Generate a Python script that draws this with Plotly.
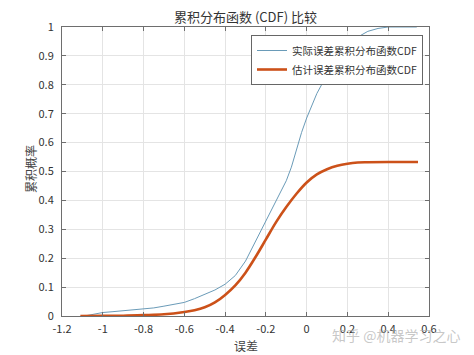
import plotly.graph_objects as go

# Empirical (actual) error CDF
actual_x = [-1.09, -1.05, -1.0, -0.95, -0.9, -0.85, -0.8, -0.75, -0.7, -0.65, -0.6, -0.55,
            -0.5, -0.45, -0.4, -0.35, -0.3, -0.25, -0.2, -0.15, -0.1, -0.075, -0.05, -0.025,
            0.0, 0.05, 0.1, 0.15, 0.2, 0.25, 0.3, 0.35, 0.4, 0.54]
actual_y = [0.0, 0.006, 0.012, 0.015, 0.018, 0.021, 0.023, 0.028, 0.034, 0.041, 0.047, 0.06,
            0.075, 0.09, 0.11, 0.14, 0.19, 0.26, 0.33, 0.4, 0.468, 0.515, 0.575, 0.635,
            0.685, 0.77, 0.835, 0.89, 0.935, 0.965, 0.985, 0.995, 1.0, 1.0]

# Estimated error CDF
est_x = [-1.11, -1.0, -0.9, -0.8, -0.7, -0.6, -0.55, -0.5, -0.45, -0.4, -0.35, -0.3,
         -0.25, -0.2, -0.15, -0.1, -0.05, 0.0, 0.05, 0.1, 0.15, 0.2, 0.25, 0.3, 0.4, 0.546]
est_y = [0.0, 0.0005, 0.001, 0.003, 0.006, 0.014, 0.02, 0.03, 0.047, 0.073, 0.106, 0.15,
         0.205, 0.265, 0.325, 0.377, 0.423, 0.462, 0.49, 0.508, 0.52, 0.527, 0.531, 0.532,
         0.533, 0.533]

x_ticks = [-1.2, -1.0, -0.8, -0.6, -0.4, -0.2, 0.0, 0.2, 0.4, 0.6]
x_tick_text = ["-1.2", "-1", "-0.8", "-0.6", "-0.4", "-0.2", "0", "0.2", "0.4", "0.6"]
y_ticks = [0, 0.1, 0.2, 0.3, 0.4, 0.5, 0.6, 0.7, 0.8, 0.9, 1]
y_tick_text = ["0", "0.1", "0.2", "0.3", "0.4", "0.5", "0.6", "0.7", "0.8", "0.9", "1"]

FONT = "Noto Sans CJK SC, Arial, sans-serif"
OFF = 8                      # default page body margin
W, H = 474 - OFF, 355 - OFF  # figure size so it ends at the window edge
# plot area in page pixels: x 62..429, y 27..316
L, T = 62 - OFF, 27 - OFF
R = (W + OFF) - 429
B = (H + OFF) - 316
PW, PH = W - L - R, H - T - B


def px_to_py(page_y):
    return (T + PH - (page_y - OFF)) / PH


def px_to_px(page_x):
    return ((page_x - OFF) - L) / PW


fig = go.Figure()
fig.add_trace(go.Scatter(x=actual_x, y=actual_y, mode="lines", name="实际误差累积分布函数CDF",
                         line=dict(color="#6a9bb8", width=1)))
fig.add_trace(go.Scatter(x=est_x, y=est_y, mode="lines", name="估计误差累积分布函数CDF",
                         line=dict(color="#cc5119", width=2.6, shape="spline")))

axis_common = dict(showline=True, linecolor="#6e6e6e", linewidth=1, mirror="ticks",
                   ticks="inside", ticklen=4, tickcolor="#6e6e6e", automargin=False,
                   showgrid=True, gridcolor="#e4e4e4", gridwidth=1, zeroline=False,
                   tickfont=dict(family=FONT, size=11, color="#333333"))

fig.update_xaxes(range=[-1.2, 0.6], tickvals=x_ticks, ticktext=x_tick_text,
                 ticklabelstandoff=3, **axis_common)
fig.update_yaxes(range=[0, 1], tickvals=y_ticks, ticktext=y_tick_text,
                 ticklabelstandoff=5, **axis_common)

fig.update_layout(
    width=W, height=H,
    margin=dict(l=L, r=R, t=T, b=B, autoexpand=False),
    paper_bgcolor="white", plot_bgcolor="white",
    title=dict(text="累积分布函数 (CDF) 比较", x=(L + PW / 2) / W, xanchor="center",
               y=1 - (17 - OFF) / H, yanchor="middle", yref="container", automargin=False,
               font=dict(family=FONT, size=13, color="#333333")),
    legend=dict(x=px_to_px(423), y=px_to_py(35), xanchor="right", yanchor="top",
                bgcolor="white", bordercolor="#666666", borderwidth=1,
                font=dict(family=FONT, size=10.5, color="#333333"),
                itemwidth=30, tracegroupgap=0),
    showlegend=True,
)

fig.add_annotation(text="误差", xref="paper", yref="paper",
                   x=0.5, y=px_to_py(345), xanchor="center", yanchor="middle",
                   showarrow=False, font=dict(family=FONT, size=12, color="#444444"))
fig.add_annotation(text="累积概率", xref="paper", yref="paper", textangle=-90,
                   x=px_to_px(30), y=px_to_py(169), xanchor="center", yanchor="middle",
                   showarrow=False, font=dict(family=FONT, size=12, color="#444444"))
fig.add_annotation(text="知乎 @机器学习之心", xref="paper", yref="paper",
                   x=px_to_px(462), y=px_to_py(335), xanchor="right", yanchor="middle",
                   showarrow=False,
                   font=dict(family=FONT, size=14, color="rgba(175,175,175,0.7)"))

fig.write_html("out.html")
